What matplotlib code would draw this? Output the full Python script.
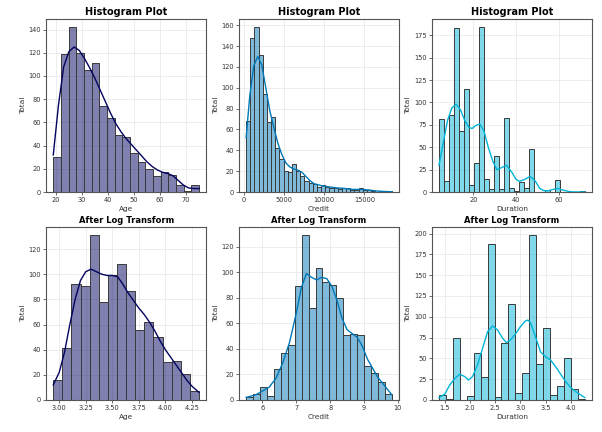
import numpy as np
import matplotlib
matplotlib.use("Agg")
import matplotlib.pyplot as plt
from matplotlib.colors import to_rgba

# ---- data ----
# raw features: (min, max) of the data range and bin counts
age_range = (19, 75)
age_counts = [30, 119, 142, 120, 105, 111, 74, 64, 49, 47, 34, 26, 20, 14, 17, 15, 6, 1, 6]
age_kde_x = [19, 21, 23, 25, 27, 29, 31, 33, 35, 37, 39, 41, 43, 45, 47, 49, 51, 53,
             55, 57, 59, 61, 63, 65, 67, 69, 71, 73, 75]
age_kde_y = [32, 75, 108, 121, 125, 122, 115, 107, 98, 88, 78, 68, 59, 52, 46, 41, 36, 31,
             26, 22, 19, 17, 16, 14, 10, 6, 3.5, 3, 3]

credit_range = (250, 18424)
credit_counts = [68, 148, 158, 131, 94, 67, 72, 42, 32, 20, 19, 27, 20, 15, 11, 9, 8, 5,
                 7, 5, 4, 4, 3, 4, 4, 2, 2, 4, 2, 2, 1, 0, 1, 0, 1]
credit_kde_x = [250, 700, 1200, 1700, 2200, 2700, 3200, 3700, 4200, 4700, 5200, 5700,
                6200, 6700, 7200, 7700, 8200, 8700, 9200, 9700, 10500, 11500, 12500,
                13500, 14500, 15500, 16500, 17500, 18424]
credit_kde_y = [52, 92, 121, 130, 122, 100, 78, 62, 47, 36, 28, 24, 22, 21, 19, 15, 11,
                8, 7, 6, 5, 4, 3.5, 2.5, 2.5, 2, 1, 0.5, 0.3]

duration_range = (4, 72)
duration_counts = [82, 12, 86, 183, 68, 115, 8, 32, 184, 14, 3, 40, 3, 83, 5, 1, 11, 5,
                   48, 0, 0, 2, 0, 13, 0, 0, 0, 0, 1]
duration_kde_x = [4, 6, 8, 10, 12, 14, 16, 18, 19.5, 21, 23, 25, 27, 29, 31, 33, 35.5,
                  38, 40, 41.5, 44, 46.5, 49, 51, 53, 55, 57.5, 59.5, 62, 65, 68, 72]
duration_kde_y = [30, 55, 80, 94, 98, 92, 80, 72, 71, 74, 76, 68, 50, 35, 25, 27, 30,
                  22, 14, 12, 14, 17.5, 12, 4, 1.5, 1.5, 3, 4, 2, 0.4, 0.1, 0.1]

# after log transform
log_age_range = (2.944, 4.317)
log_age_counts = [16, 41, 92, 91, 131, 78, 99, 108, 87, 56, 62, 50, 30, 31, 21, 7]
log_age_kde_x = [2.944, 3.00, 3.05, 3.10, 3.15, 3.20, 3.25, 3.30, 3.35, 3.40, 3.45, 3.50,
                 3.55, 3.60, 3.65, 3.70, 3.75, 3.80, 3.85, 3.90, 3.95, 4.00, 4.05, 4.10,
                 4.15, 4.20, 4.25, 4.317]
log_age_kde_y = [12, 22, 38, 60, 80, 95, 102, 104, 102, 100, 99, 99, 98, 92, 85, 79, 73,
                 68, 62, 55, 47, 40, 34, 28, 22, 16, 11, 6]

log_credit_range = (5.521, 9.821)
log_credit_counts = [2, 5, 10, 3, 24, 37, 43, 89, 129, 72, 103, 92, 90, 80, 51, 52, 51,
                     27, 21, 14, 5]
log_credit_kde_x = [5.52, 5.8, 6.0, 6.2, 6.4, 6.6, 6.8, 7.0, 7.15, 7.3, 7.45, 7.6, 7.75,
                    7.9, 8.05, 8.2, 8.35, 8.5, 8.65, 8.8, 8.95, 9.1, 9.25, 9.4, 9.55,
                    9.7, 9.82]
log_credit_kde_y = [2, 4, 7, 10, 17, 29, 45, 68, 88, 99, 96, 94, 96, 95, 89, 78, 64, 55,
                    52, 49, 42, 32, 25, 18, 13, 8, 4]

log_duration_range = (1.386, 4.277)
log_duration_counts = [6, 1, 75, 0, 5, 56, 28, 188, 4, 68, 115, 8, 32, 198, 43, 86, 6,
                       17, 50, 13, 1]
log_duration_kde_x = [1.386, 1.5, 1.6, 1.7, 1.8, 1.9, 1.97, 2.05, 2.15, 2.25, 2.35, 2.45,
                      2.55, 2.65, 2.72, 2.8, 2.9, 3.0, 3.1, 3.15, 3.2, 3.3, 3.4, 3.5,
                      3.6, 3.7, 3.8, 3.9, 4.0, 4.1, 4.2, 4.277]
log_duration_kde_y = [3, 7, 18, 26, 31, 28, 24, 28, 42, 62, 82, 89, 84, 74, 69, 72, 79,
                      88, 95, 96, 93, 76, 58, 52, 48, 40, 31, 22, 15, 10, 6, 3]

colors = ["#03045e", "#0077b6", "#00b4d8"]
labels = ["Age", "Credit", "Duration"]
top_ticks = [[20, 30, 40, 50, 60, 70], [0, 5000, 10000, 15000], [20, 40, 60]]
bottom_ticks = [[3.00, 3.25, 3.50, 3.75, 4.00, 4.25], [6, 7, 8, 9, 10],
                [1.5, 2.0, 2.5, 3.0, 3.5, 4.0]]
bottom_fmt = ["{:.2f}", "{:d}", "{:.1f}"]

panels = [
    (age_range, age_counts, age_kde_x, age_kde_y),
    (credit_range, credit_counts, credit_kde_x, credit_kde_y),
    (duration_range, duration_counts, duration_kde_x, duration_kde_y),
    (log_age_range, log_age_counts, log_age_kde_x, log_age_kde_y),
    (log_credit_range, log_credit_counts, log_credit_kde_x, log_credit_kde_y),
    (log_duration_range, log_duration_counts, log_duration_kde_x, log_duration_kde_y),
]


def draw_hist(ax, rng, counts, kx, ky, color, xlabel, title, title_size, xticks, fmt="{:d}"):
    edges = np.linspace(rng[0], rng[1], len(counts) + 1)
    ax.bar(edges[:-1], counts, width=np.diff(edges), align="edge",
           facecolor=to_rgba(color, 0.5), edgecolor="#3a3a3a", linewidth=0.7, zorder=2)
    ax.plot(kx, ky, color=color, linewidth=1.0, zorder=3)
    ax.set_xticks(xticks)
    ax.set_xticklabels([fmt.format(t) for t in xticks])
    ax.margins(x=0.05, y=0.05)
    ax.set_ylim(0, max(counts) * 1.05)
    ax.set_xlabel(xlabel, fontsize=5.3, color="#333333", labelpad=2)
    ax.set_ylabel("Total", fontsize=5.3, color="#333333", labelpad=2)
    ax.set_title(title, fontsize=title_size, fontweight="bold", pad=3)
    ax.grid(True, color="#e6e6e6", linewidth=0.5, zorder=0)
    ax.set_axisbelow(True)
    ax.tick_params(labelsize=4.8, colors="#333333", length=2, width=0.5, pad=1.5)
    for sp in ax.spines.values():
        sp.set_color("#555555")
        sp.set_linewidth(0.8)


fig, axes = plt.subplots(2, 3, figsize=(6.02, 4.32), dpi=100)
fig.subplots_adjust(left=0.0764, right=0.9834, top=0.956, bottom=0.0741,
                    wspace=0.203, hspace=0.202)

for i, ax in enumerate(axes.ravel()):
    rng, counts, kx, ky = panels[i]
    col = i % 3
    if i < 3:
        draw_hist(ax, rng, counts, kx, ky, colors[col], labels[col], "Histogram Plot", 7,
                  top_ticks[col])
    else:
        draw_hist(ax, rng, counts, kx, ky, colors[col], labels[col], "After Log Transform", 6,
                  bottom_ticks[col], bottom_fmt[col])

fig.savefig("out.png", dpi=100)
plt.close(fig)
